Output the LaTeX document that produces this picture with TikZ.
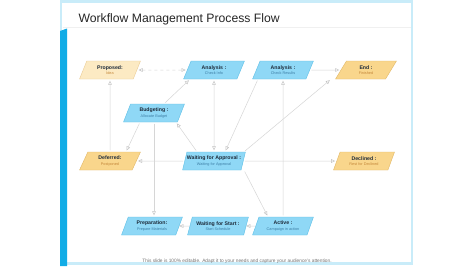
\documentclass[tikz,border=0pt]{standalone}
\usepackage{fontspec}
\setmainfont{Liberation Sans}
\usepackage{xcolor}
\usetikzlibrary{shapes.geometric,arrows.meta}
\definecolor{frameblue}{HTML}{C9ECF9}
\definecolor{barblue}{HTML}{12ACE6}
\definecolor{boxblue}{HTML}{8FD8F6}
\definecolor{edgeblue}{HTML}{5DBFE6}
\definecolor{boxpale}{HTML}{FCEAC3}
\definecolor{boxgold}{HTML}{F9D68C}
\definecolor{edgegold}{HTML}{E2B867}
\definecolor{linkgray}{HTML}{D6D6D6}
\definecolor{namecol}{HTML}{1E2B3A}
\definecolor{subblue}{HTML}{3E7FA6}
\definecolor{subgold}{HTML}{C4873A}

\begin{document}
\begin{tikzpicture}[x=1pt, y=-1pt,
    stage/.style={trapezium, trapezium left angle=66, trapezium right angle=114,
                  trapezium stretches=true, minimum width=61pt, minimum height=18pt,
                  inner sep=0pt, align=center, line width=0.4pt,
                  font=\fontsize{3.8}{4.6}\selectfont},
    bluestage/.style={stage, draw=edgeblue, fill=boxblue},
    goldstage/.style={stage, draw=edgegold, fill=boxgold},
    palestage/.style={stage, draw=edgegold!70, fill=boxpale},
    link/.style={draw=linkgray, line width=0.5pt, shorten >=1.5pt, shorten <=1.5pt,
                 arrows={-Triangle[open, length=4pt, width=3.6pt, color=linkgray!90!black]}},
    both/.style={arrows={Triangle[open, length=4pt, width=3.6pt, color=linkgray!90!black]-Triangle[open, length=4pt, width=3.6pt, color=linkgray!90!black]}}
  ]
  \newcommand{\stagetext}[3]{{\fontsize{5.2}{6}\selectfont\bfseries\color{namecol}#1}\\[0.6pt]
                             {\color{#3}#2}}
  \useasboundingbox (0,0) rectangle (474,266);
  \fill[white] (0,0) rectangle (474,266);
  % Slide frame
  \draw[frameblue, line width=2.6pt] (61,1.5) rectangle (412,263.5);
  \draw[black!6, line width=0.5pt] (62.5,27) -- (410.5,27);
  \fill[barblue] (60,31) -- (67,28.5) -- (67,266) -- (60,266) -- cycle;
  \node[anchor=west, font=\fontsize{12.2}{14}\selectfont, text=black!85] (title) at (75,19)
        {Workflow Management Process Flow};
  % Boxes
  \node[palestage] (prop)   at (110,70)  {\stagetext{Proposed:}{Idea}{subgold}};
  \node[bluestage] (chk)    at (214,70)  {\stagetext{Analysis :}{Check Info}{subblue}};
  \node[bluestage] (res)    at (283,70)  {\stagetext{Analysis :}{Check Results}{subblue}};
  \node[goldstage] (end)    at (366,70)  {\stagetext{End :}{Finished}{subgold}};
  \node[bluestage] (budget) at (154,113) {\stagetext{Budgeting :}{Allocate Budget}{subblue}};
  \node[goldstage] (defer)  at (110,161) {\stagetext{Deferred:}{Postponed}{subgold}};
  \node[bluestage] (wait)   at (214,161) {\stagetext{Waiting for Approval :}{Waiting for Approval}{subblue}};
  \node[goldstage] (decl)   at (364,161) {\stagetext{Declined :}{Rest for Declined}{subgold}};
  \node[bluestage] (prep)   at (152,226) {\stagetext{Preparation:}{Prepare Materials}{subblue}};
  \node[bluestage] (start)  at (218,226) {\stagetext{Waiting for Start :}{Start Schedule}{subblue}};
  \node[bluestage] (active) at (283,226) {\stagetext{Active :}{Campaign in action}{subblue}};
  % Arrows
  \draw[link, both, dashed] (prop) -- (chk);
  \draw[link] (res) -- (end);
  \draw[link] (defer.north) -- (prop.south);
  \draw[link, both] (wait.north) -- (chk.south);
  \draw[link] ([xshift=10pt]budget.north) -- ([xshift=-24pt]chk.south);
  \draw[link] ([xshift=-17pt]wait.north) -- ([xshift=22pt]budget.south);
  \draw[link] ([xshift=-14pt]budget.south) -- ([xshift=16pt]defer.north);
  \draw[link] (budget.south) -- (budget.south |- prep.north);
  \draw[link] ([xshift=-25pt]res.south) -- ([xshift=11pt]wait.north);
  \draw[link] ([xshift=30pt]wait.north) -- ([xshift=-35pt]end.south);
  \draw[link] (active.north) -- (res.south);
  \draw[link] ([xshift=30pt]wait.south) -- ([xshift=-15pt]active.north);
  \draw[link] (wait) -- (defer);
  \draw[link] (wait) -- (decl);
  \draw[link, shorten <=0pt, shorten >=0pt] (start) -- (prep);
  \draw[link, shorten <=0pt, shorten >=0pt] (active) -- (start);
  % Footer
  \node[font=\fontsize{4.8}{5.5}\selectfont, text=black!55] (note) at (237,261.5)
        {This slide is 100\% editable. Adapt it to your needs and capture your audience's attention.};
\end{tikzpicture}
\end{document}
